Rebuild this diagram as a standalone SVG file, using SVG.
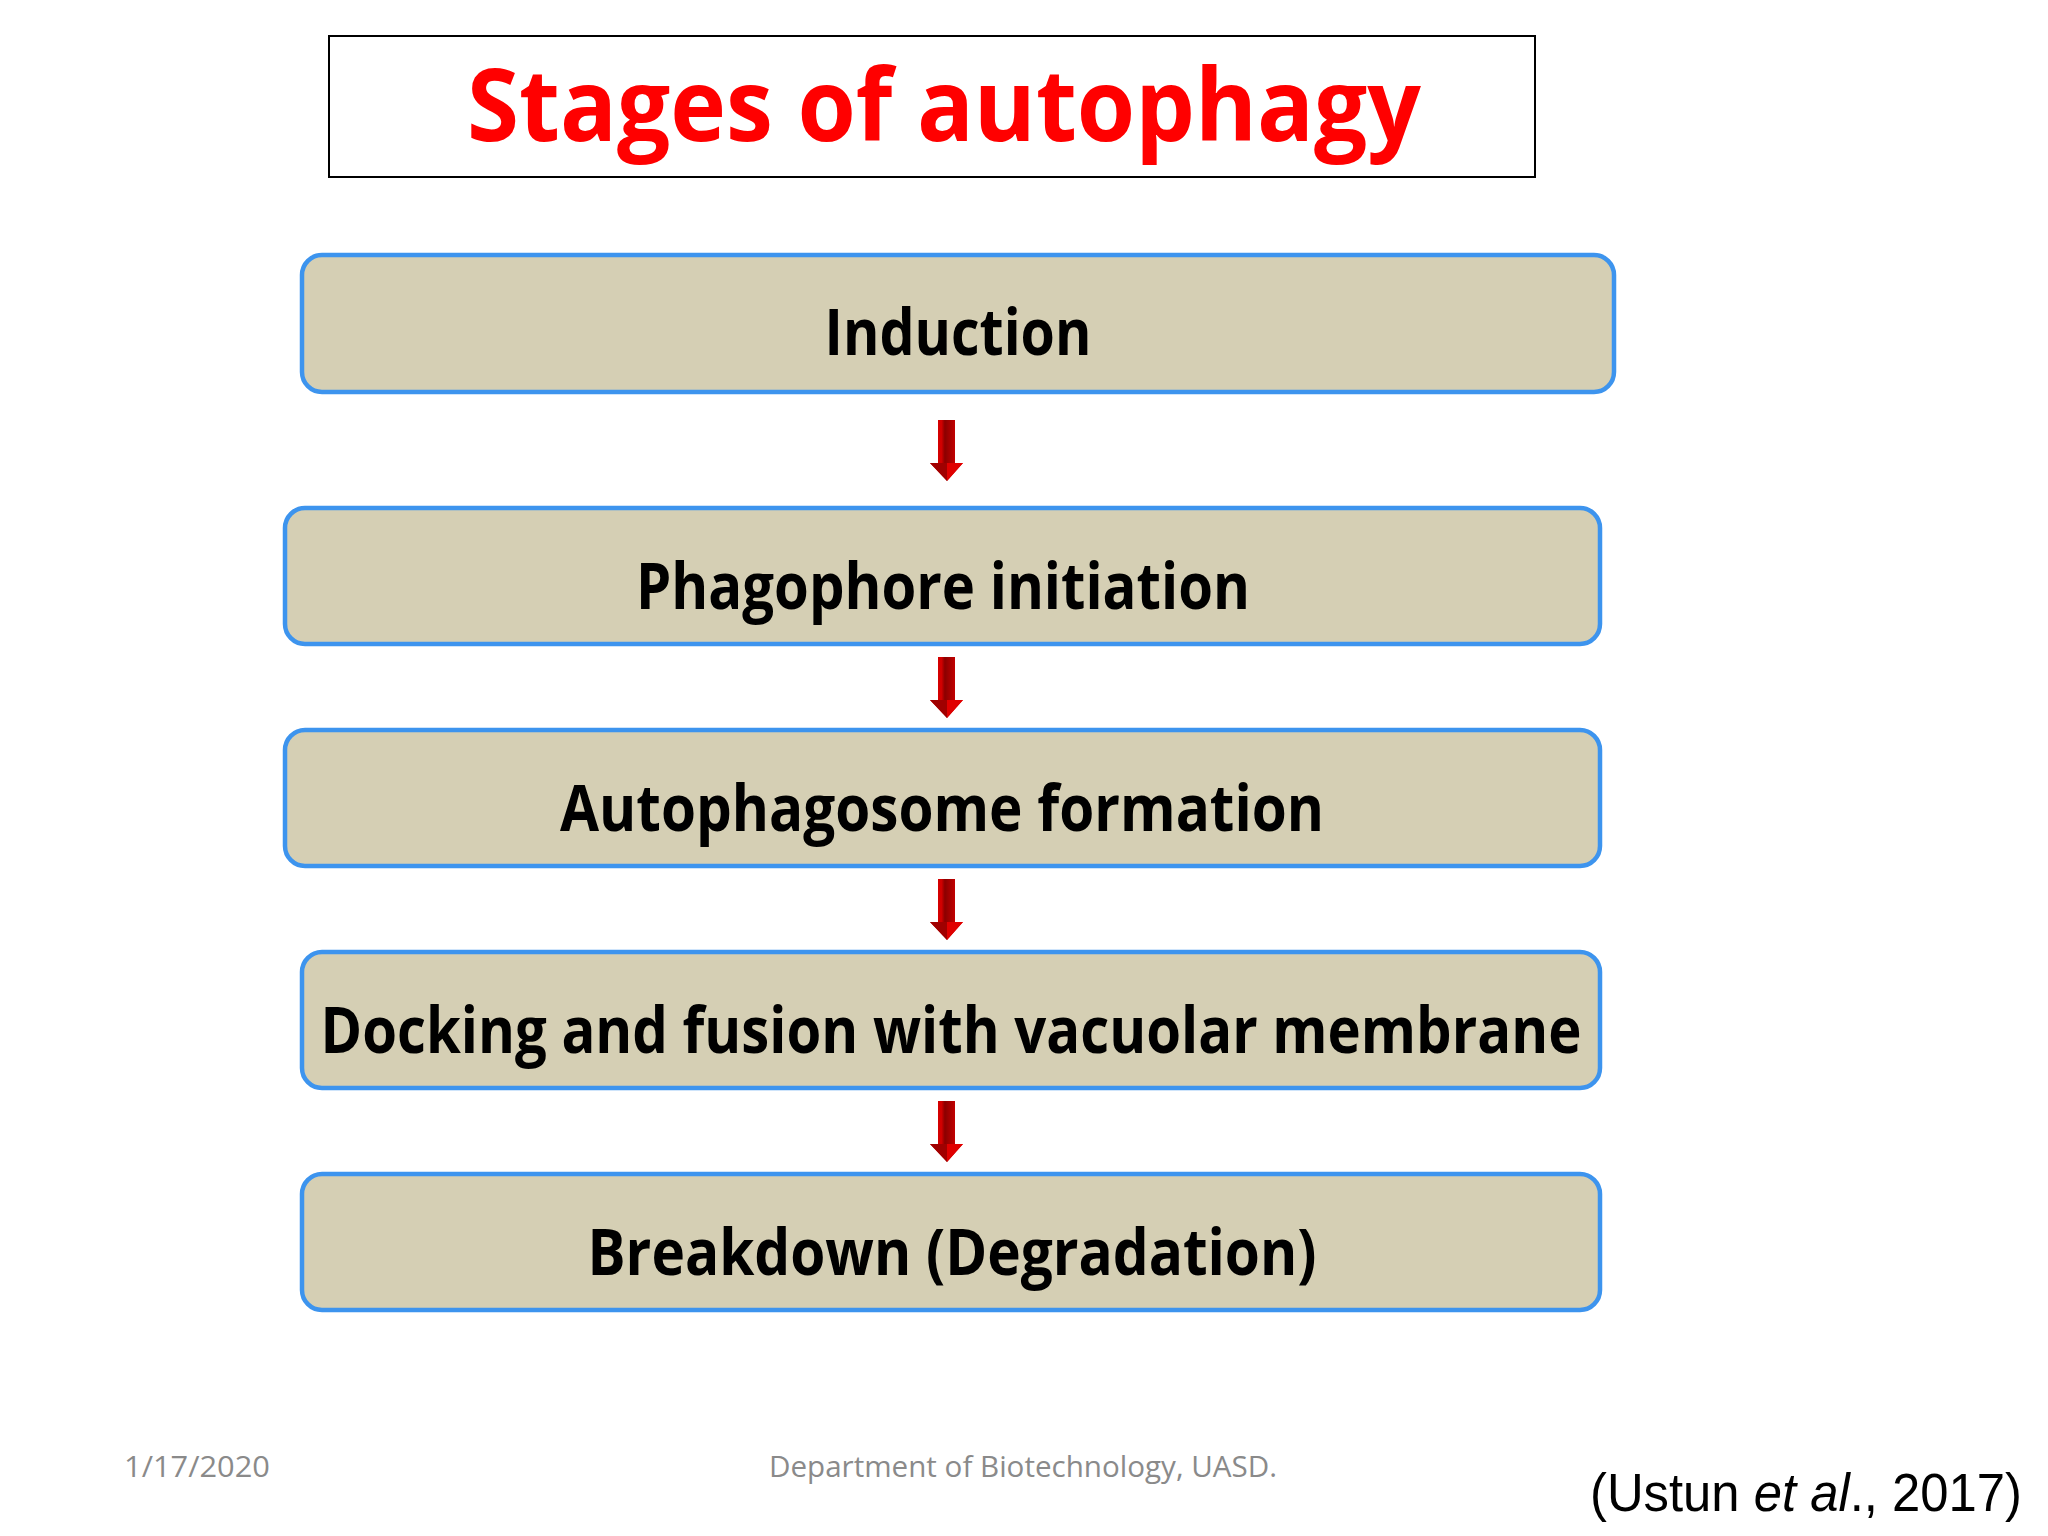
<svg xmlns="http://www.w3.org/2000/svg" width="2048" height="1536" viewBox="0 0 2048 1536">
<defs>
<style>
.box{fill:#d5cfb4;stroke:#3d94ee;stroke-width:4.5}
.lbl{font-family:"Open Sans","Lato","DejaVu Sans",sans-serif;font-weight:bold;font-size:64px;fill:#000;text-anchor:middle}
.foot{font-family:"Open Sans","Lato",sans-serif;font-size:30px;fill:#8a8a8a}
</style>
<linearGradient id="shaft" x1="0" y1="0" x2="1" y2="0">
<stop offset="0" stop-color="#e00000"/>
<stop offset="0.35" stop-color="#d00000"/>
<stop offset="0.45" stop-color="#8a0000"/>
<stop offset="0.7" stop-color="#b80000"/>
<stop offset="1" stop-color="#f00000"/>
</linearGradient>
<g id="arrow">
<polygon points="-9,0 8,0 8,43 16,43 0,61 -17,43 -9,43" fill="url(#shaft)"/>
<polygon points="-17,43 0,61 0,43" fill="#a00000"/>
<polygon points="0,43 16,43 0,61" fill="#e00000"/>
</g>
</defs>
<rect width="2048" height="1536" fill="#ffffff"/>

<g id="title">
<rect x="329" y="36" width="1206" height="141" fill="#ffffff" stroke="#000" stroke-width="2"/>
<text x="944" y="141" font-family="Open Sans, Lato, sans-serif" font-weight="bold" font-size="100" fill="#ff0000" text-anchor="middle" textLength="954" lengthAdjust="spacingAndGlyphs">Stages of autophagy</text>
</g>

<g id="connectors">
<use href="#arrow" x="947" y="420"/>
<use href="#arrow" x="947" y="657"/>
<use href="#arrow" x="947" y="879"/>
<use href="#arrow" x="947" y="1101"/>
</g>

<g id="induction">
<rect class="box" x="302" y="255" width="1312" height="137" rx="20"/>
<text class="lbl" x="958" y="355" textLength="267" lengthAdjust="spacingAndGlyphs">Induction</text>
</g>
<g id="phagophore">
<rect class="box" x="285" y="508" width="1315" height="136" rx="20"/>
<text class="lbl" x="943" y="609" textLength="614" lengthAdjust="spacingAndGlyphs">Phagophore initiation</text>
</g>
<g id="autophagosome">
<rect class="box" x="285" y="730" width="1315" height="136" rx="20"/>
<text class="lbl" x="942" y="831" textLength="764" lengthAdjust="spacingAndGlyphs">Autophagosome formation</text>
</g>
<g id="docking">
<rect class="box" x="302" y="952" width="1298" height="136" rx="20"/>
<text class="lbl" x="951" y="1053" textLength="1261" lengthAdjust="spacingAndGlyphs">Docking and fusion with vacuolar membrane</text>
</g>
<g id="breakdown">
<rect class="box" x="302" y="1174" width="1298" height="136" rx="20"/>
<text class="lbl" x="952" y="1275" textLength="729" lengthAdjust="spacingAndGlyphs">Breakdown (Degradation)</text>
</g>

<g id="footer">
<text class="foot" x="124" y="1477" textLength="146" lengthAdjust="spacingAndGlyphs">1/17/2020</text>
<text class="foot" x="769" y="1477" textLength="508" lengthAdjust="spacingAndGlyphs">Department of Biotechnology, UASD.</text>
<text x="1590" y="1511" font-family="Liberation Sans, Arial, sans-serif" font-size="53" fill="#000" textLength="432" lengthAdjust="spacingAndGlyphs">(Ustun <tspan font-style="italic">et al</tspan>., 2017)</text>
</g>
</svg>
